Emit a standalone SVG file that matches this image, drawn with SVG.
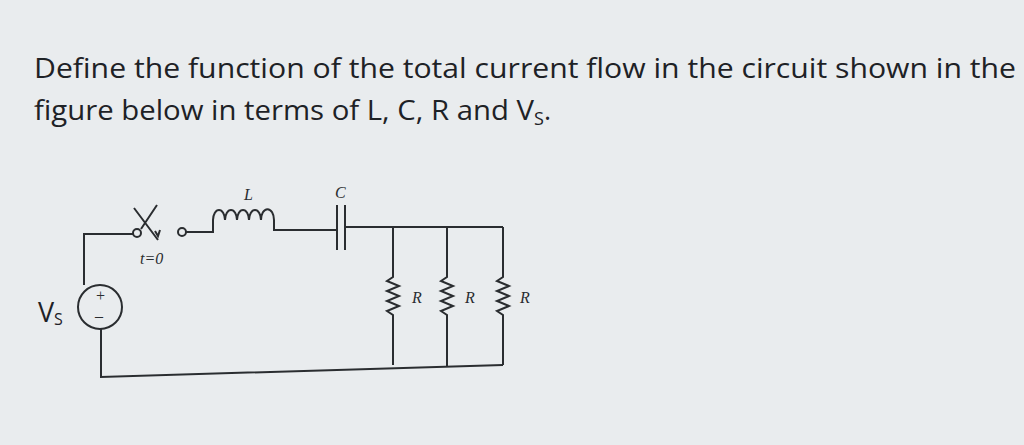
<svg xmlns="http://www.w3.org/2000/svg" width="1024" height="445" viewBox="0 0 1024 445">
<style>
.t{font-family:"Open Sans","Noto Sans",sans-serif;font-size:27px;fill:#1e2226}
.w{fill:none;stroke:#2a2d30;stroke-width:2}
.l{font-family:"Liberation Serif",serif;font-size:16px;font-style:italic;fill:#2a2d30}
</style>
<rect width="1024" height="445" fill="#e9ecee"/>
<text class="t" x="34" y="78" textLength="982" lengthAdjust="spacingAndGlyphs">Define the function of the total current flow in the circuit shown in the</text>
<text class="t" x="34" y="120"><tspan textLength="500" lengthAdjust="spacingAndGlyphs">figure below in terms of L, C, R and V</tspan><tspan font-size="18" dy="5">S</tspan><tspan dy="-5">.</tspan></text>
<g id="source"><circle class="w" cx="100" cy="307" r="22"/><text class="l" x="95" y="301" font-style="normal">+</text><text class="l" x="95" y="321" font-style="normal">–</text>
<text class="t" x="38" y="322" font-size="22">V<tspan font-size="16" dy="3">S</tspan></text></g>
<g id="switch"><circle class="w" cx="137" cy="233" r="4"/><circle class="w" cx="182" cy="232" r="4"/>
<path class="w" d="M134 208 L158 240 M157 205 L141 229 M160 230 l-2 6 l-3 -5"/><text class="l" x="140" y="264" font-style="normal">t=0</text></g>
<g id="inductor"><path class="w" d="M186 232 H213 V220 a6 10 0 0 1 12 0 a6 10 0 0 1 12 0 a6 10 0 0 1 12 0 a6 10 0 0 1 12 0 a6 10 0 0 1 13 0 V230 H337"/><text class="l" x="244" y="200">L</text></g>
<g id="capacitor"><path class="w" d="M337 205 V250 M345 205 V250 M345 227 H503"/><text class="l" x="335" y="198">C</text></g>
<g id="resistors">
<path class="w" d="M393 227 V277 l-6 4 l12 5 l-12 5 l12 5 l-12 5 l12 5 l-12 5 l6 4 V365"/>
<path class="w" d="M447 227 V277 l-6 4 l12 5 l-12 5 l12 5 l-12 5 l12 5 l-12 5 l6 4 V367"/>
<path class="w" d="M503 227 V277 l-6 4 l12 5 l-12 5 l12 5 l-12 5 l12 5 l-12 5 l6 4 V365"/>
<text class="l" x="412" y="303">R</text><text class="l" x="465" y="303">R</text><text class="l" x="520" y="303">R</text></g>
<g id="wires"><path class="w" d="M133 234 H84 V285 M101 329 V377 L503 365"/></g>
</svg>
